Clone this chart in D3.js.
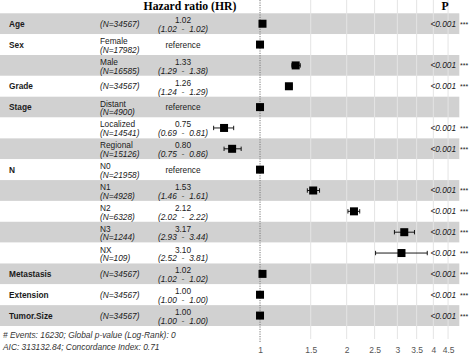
<!DOCTYPE html>
<html>
<head>
<meta charset="utf-8">
<script src="https://cdn.jsdelivr.net/npm/d3@7"></script>
<style>
  html, body { margin: 0; padding: 0; background: #fff; }
  svg { display: block; }
</style>
</head>
<body>
<svg id="chart" width="474" height="357"></svg>
<script>
// ---- data ----
const variables = ["Age","Sex","","Grade","Stage","","","N","","","","","Metastasis","Extension","Tumor.Size"];
const levels    = ["","Female","Male","","Distant","Localized","Regional","N0","N1","N2","N3","NX","","",""];
const counts    = [34567,17982,16585,34567,4900,14541,15126,21958,4928,6328,1244,109,34567,34567,34567];
const isRef     = [false,true,false,false,true,false,false,true,false,false,false,false,false,false,false];
const hr        = [1.02,1,1.33,1.26,1,0.75,0.80,1,1.53,2.12,3.17,3.10,1.02,1.00,1.00];
const ciLow     = [1.02,1,1.29,1.24,1,0.69,0.75,1,1.46,2.02,2.93,2.52,1.02,1.00,1.00];
const ciHigh    = [1.02,1,1.38,1.29,1,0.81,0.86,1,1.61,2.22,3.44,3.81,1.02,1.00,1.00];
const pText     = ["<0.001","","<0.001","<0.001","","<0.001","<0.001","","<0.001","<0.001","<0.001","<0.001","<0.001","<0.001","<0.001"];
const pStars    = ["***","","***","***","","***","***","","***","***","***","***","***","***","***"];
const tickValues = [1,1.5,2,2.5,3,3.5,4,4.5];
const footLines = ["# Events: 16230; Global p-value (Log-Rank): 0",
                   "AIC: 313132.84; Concordance Index: 0.71"];

// ---- layout ----
const svg = d3.select("#chart");
const panelRight = 459.3, panelTop = 0, panelBottom = 339;
const bandTop = 13.3, bandBottom = 326;
const n = hr.length;

// x scale like ggforest: extend log range to the left by its width and right by 15%
const lo = d3.min(ciLow.filter((d,i)=>!isRef[i])), hi = d3.max(ciHigh.filter((d,i)=>!isRef[i]));
const span = Math.log(hi) - Math.log(lo);
const x = d3.scaleLog()
  .domain([lo / Math.exp(span), hi * Math.exp(0.15 * span)])
  .range([0, panelRight]);

const y = d3.scaleBand().domain(d3.range(n)).range([bandTop, bandBottom]).padding(0);
const yc = i => y(i) + y.bandwidth() / 2;

// bands
svg.append("g").selectAll("rect").data(d3.range(n)).join("rect")
  .attr("x", 0).attr("width", panelRight)
  .attr("y", i => y(i)).attr("height", y.bandwidth())
  .attr("fill", i => i % 2 === 0 ? "#d1d1d1" : "#ffffff");

// grid lines
svg.append("g").selectAll("line").data(tickValues.filter(t => t !== 1)).join("line")
  .attr("x1", d => x(d)).attr("x2", d => x(d))
  .attr("y1", panelTop).attr("y2", panelBottom)
  .attr("stroke", "#e4e4e4").attr("stroke-width", 1);

// reference line at 1
svg.append("line")
  .attr("x1", x(1)).attr("x2", x(1))
  .attr("y1", panelTop).attr("y2", panelBottom + 3)
  .attr("stroke", "#777").attr("stroke-width", 1)
  .attr("stroke-dasharray", "1.2,1.2");

// axis
const axis = d3.axisBottom(x).tickValues(tickValues).tickFormat(d3.format("")).tickSize(0).tickPadding(8);
const ax = svg.append("g").attr("transform", `translate(0,${panelBottom})`).call(axis);
ax.select(".domain").remove();
ax.selectAll("text").attr("font-family", "Liberation Sans, Arial, sans-serif")
  .attr("font-size", 8.5).attr("fill", "#555");

// error bars
const eb = svg.append("g");
d3.range(n).filter(i => !isRef[i] && ciHigh[i] > ciLow[i]).forEach(i => {
  const cy = yc(i);
  eb.append("line").attr("x1", x(ciLow[i])).attr("x2", x(ciHigh[i]))
    .attr("y1", cy).attr("y2", cy).attr("stroke", "#000").attr("stroke-width", 0.9);
  [ciLow[i], ciHigh[i]].forEach(v => {
    eb.append("line").attr("x1", x(v)).attr("x2", x(v))
      .attr("y1", cy - 2.2).attr("y2", cy + 2.2).attr("stroke", "#000").attr("stroke-width", 0.9);
  });
});

// points
const sq = 8;
svg.append("g").selectAll("rect").data(d3.range(n)).join("rect")
  .attr("x", i => x(hr[i]) - sq / 2).attr("y", i => yc(i) - sq / 2)
  .attr("width", sq).attr("height", sq).attr("fill", "#000");

// text helpers
const sans = "Liberation Sans, Arial, sans-serif";
const fs = 8.3;
function txt(g, xx, yy, s, opts = {}) {
  const t = g.append("text").attr("x", xx).attr("y", yy).text(s)
    .attr("font-family", opts.family || sans)
    .attr("font-size", opts.size || fs)
    .attr("font-weight", opts.weight || "normal")
    .attr("font-style", opts.style || "normal")
    .attr("text-anchor", opts.anchor || "start")
    .attr("fill", opts.fill || "#1a1a1a");
  if (opts.wordSpacing) t.attr("word-spacing", opts.wordSpacing);
  return t;
}

const tg = svg.append("g");
const fmt = d3.format(".2f");
d3.range(n).forEach(i => {
  const cy = yc(i);
  if (variables[i]) txt(tg, 9, cy + 3, variables[i], {weight: "bold"});
  if (levels[i]) {
    txt(tg, 100, cy - 0.5, levels[i]);
    txt(tg, 100, cy + 8.3, `(N=${counts[i]})`, {style: "italic"});
  } else {
    txt(tg, 100, cy + 3, `(N=${counts[i]})`, {style: "italic"});
  }
  if (isRef[i]) {
    txt(tg, 183, cy + 3, "reference", {anchor: "middle"});
  } else {
    txt(tg, 183, cy - 0.5, fmt(hr[i]), {anchor: "middle"});
    txt(tg, 183, cy + 8.3, `(${fmt(ciLow[i])} - ${fmt(ciHigh[i])})`, {anchor: "middle", style: "italic", wordSpacing: 2.5});
  }
  if (pText[i]) {
    txt(tg, 456, cy + 3, pText[i], {anchor: "end", style: "italic"});
    txt(tg, 460, cy + 3, pStars[i], {size: 7});
  }
});

// headers
txt(tg, 190, 10.3, "Hazard ratio (HR)", {family: "Liberation Serif, Times New Roman, serif", weight: "bold", size: 11.7, anchor: "middle", fill: "#000"});
txt(tg, 445, 10.3, "P", {family: "Liberation Serif, Times New Roman, serif", weight: "bold", size: 11.7, anchor: "middle", fill: "#000"});

// footnote
txt(tg, 3, 338, footLines[0], {style: "italic", size: 8.4, fill: "#333"});
txt(tg, 3, 349.5, footLines[1], {style: "italic", size: 8.4, fill: "#333"});
</script>
</body>
</html>
